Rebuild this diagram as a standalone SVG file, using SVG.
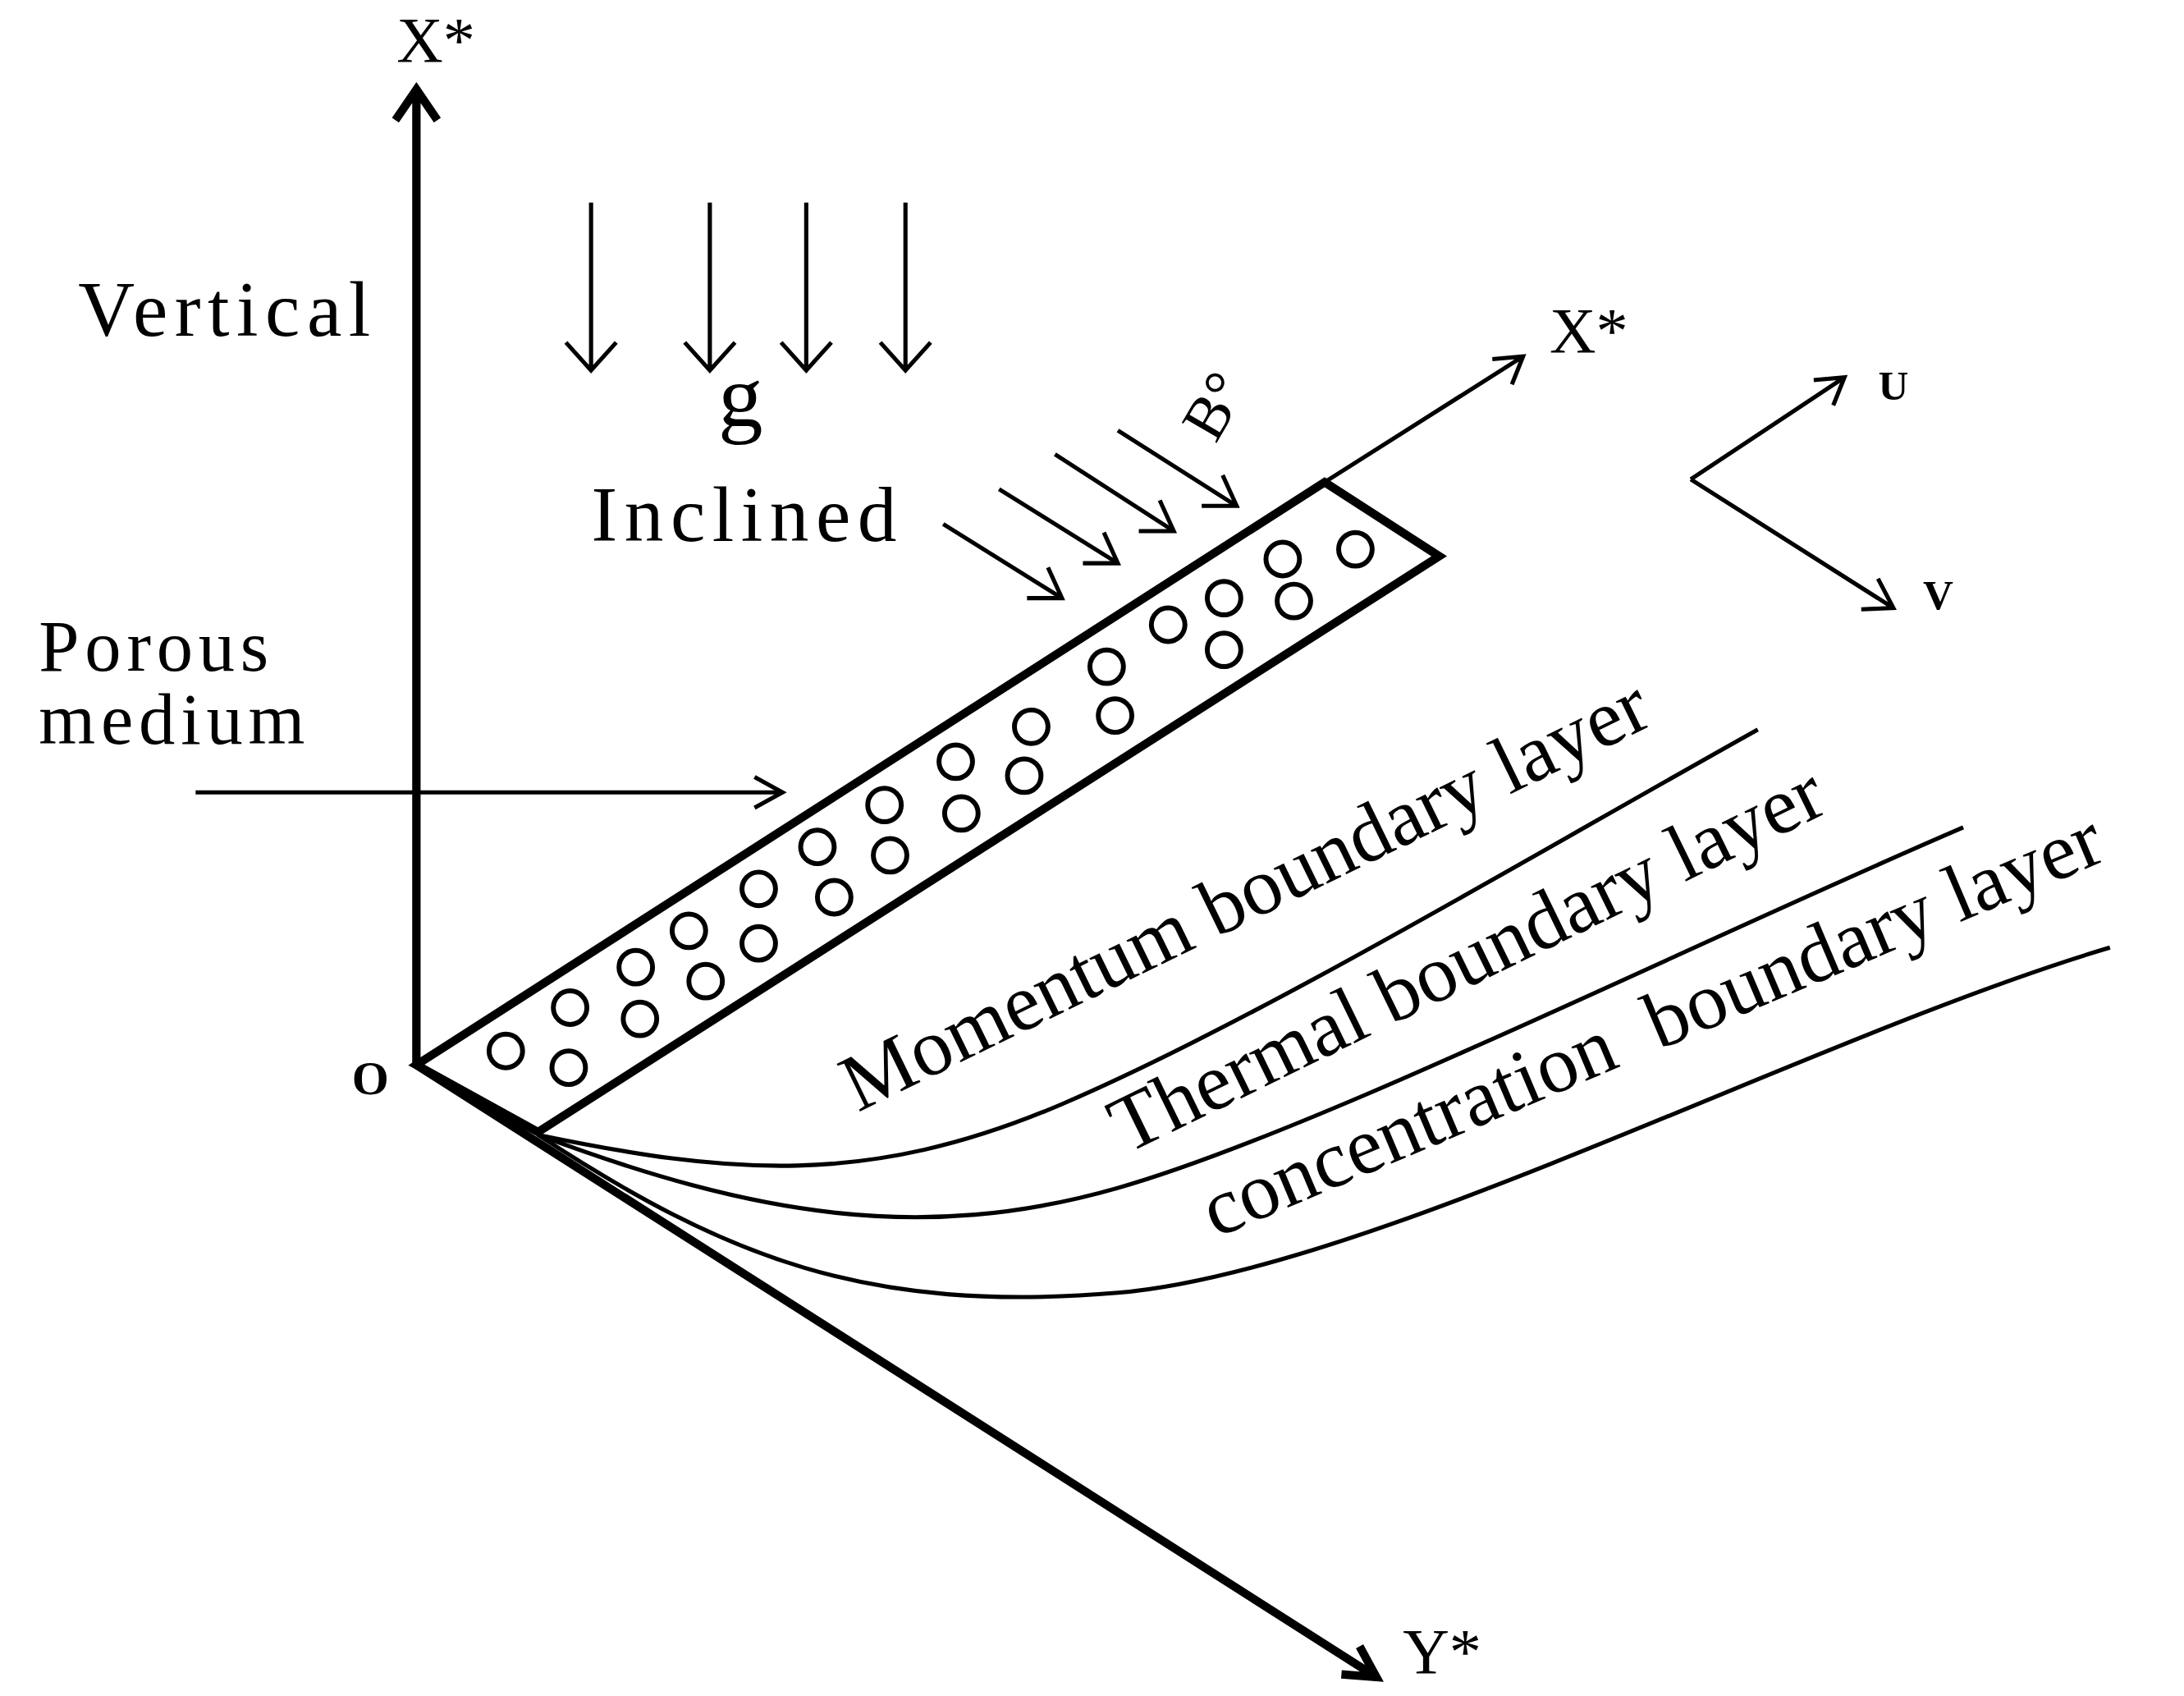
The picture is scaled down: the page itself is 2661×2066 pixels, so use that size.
<svg xmlns="http://www.w3.org/2000/svg" width="2661" height="2066" viewBox="0 0 2661 2066">
<style>
.t{font-family:"Liberation Serif","Times New Roman",serif;fill:#000}
.l{stroke:#000;fill:none;stroke-width:3}
.th{stroke:#000;fill:none;stroke-width:6}
.c{stroke:#000;fill:none;stroke-width:3.5}
</style>
<rect width="2661" height="2066" fill="#fff"/>
<g transform="scale(1.7025)">
<g id="connectors">
<path class="th" d="M298,762 V64 M283,86 L298,64 L313,86"/>
<path class="th" d="M298,762 L985,1200 M960,1198 L985,1200 L973,1178"/>
<path class="l" d="M948,345 L1090,255 M1068,257 L1090,255 L1082,275"/>
<path class="l" d="M423,145 V265 M405,245 L423,265 L441,245"/>
<path class="l" d="M508,145 V265 M490,245 L508,265 L526,245"/>
<path class="l" d="M577,145 V265 M559,245 L577,265 L595,245"/>
<path class="l" d="M648,145 V265 M630,245 L648,265 L666,245"/>
<path class="l" d="M675,375 L760,428 M735,428 L760,428 L750,406"/>
<path class="l" d="M715,350 L800,403 M775,403 L800,403 L790,381"/>
<path class="l" d="M755,325 L840,380 M815,380 L840,380 L830,358"/>
<path class="l" d="M800,308 L885,362 M860,362 L885,362 L875,340"/>
<path class="l" d="M140,567 H560 M540,556 L560,567 L540,578"/>
<path class="l" d="M1210,343 L1320,270 M1298,272 L1320,270 L1312,290"/>
<path class="l" d="M1210,343 L1355,435 M1332,436 L1355,435 L1344,414"/>
<path class="l" d="M385,812 C520,840 620,850 760,790 S1100,610 1258,522"/>
<path class="l" d="M385,812 C540,870 660,890 800,850 S1200,680 1405,592"/>
<path class="l" d="M385,812 C520,900 620,940 800,925 S1300,740 1510,678"/>
</g>
<g id="plate">
<path class="th" d="M298,762 L948,345 L1030,398 L385,810 Z"/>
<g class="c">
<circle cx="362" cy="752" r="12"/><circle cx="407" cy="764" r="12"/><circle cx="408" cy="721" r="12"/><circle cx="458" cy="729" r="12"/>
<circle cx="455" cy="692" r="12"/><circle cx="505" cy="702" r="12"/><circle cx="493" cy="666" r="12"/><circle cx="543" cy="675" r="12"/>
<circle cx="543" cy="636" r="12"/><circle cx="597" cy="642" r="12"/><circle cx="585" cy="606" r="12"/><circle cx="637" cy="612" r="12"/>
<circle cx="633" cy="576" r="12"/><circle cx="688" cy="582" r="12"/><circle cx="684" cy="545" r="12"/><circle cx="733" cy="555" r="12"/>
<circle cx="738" cy="520" r="12"/><circle cx="798" cy="512" r="12"/><circle cx="792" cy="477" r="12"/><circle cx="836" cy="447" r="12"/>
<circle cx="876" cy="465" r="12"/><circle cx="876" cy="428" r="12"/><circle cx="926" cy="430" r="12"/><circle cx="918" cy="400" r="12"/>
<circle cx="970" cy="393" r="12"/>
</g>
</g>
<g id="labels" class="t">
<text x="312" y="44" font-size="46" text-anchor="middle">X*</text>
<text x="265" y="783" font-size="34" font-weight="bold" text-anchor="middle">O</text>
<text x="1032" y="1197" font-size="46" text-anchor="middle">Y*</text>
<text x="1137" y="252" font-size="46" text-anchor="middle">X*</text>
<text x="163" y="240" font-size="56" text-anchor="middle" letter-spacing="5">Vertical</text>
<text x="530" y="305" font-size="64" text-anchor="middle">g</text>
<text x="535" y="387" font-size="56" text-anchor="middle" letter-spacing="5">Inclined</text>
<text x="112" y="480" font-size="52" text-anchor="middle" letter-spacing="4">Porous</text>
<text x="125" y="532" font-size="52" text-anchor="middle" letter-spacing="4">medium</text>
<text transform="translate(870,318) rotate(-60)" font-size="44">B°</text>
<text x="1355" y="286" font-size="30" font-weight="bold" text-anchor="middle">U</text>
<text x="1387" y="436" font-size="30" font-weight="bold" text-anchor="middle">V</text>
<text transform="translate(614,796) rotate(-26)" font-size="58">Momentum boundary layer</text>
<text transform="translate(806,826) rotate(-26)" font-size="58">Thermal boundary layer</text>
<text transform="translate(870,886) rotate(-23)" font-size="58" xml:space="preserve">concentration  boundary layer</text>
</g>
</g>
</svg>
